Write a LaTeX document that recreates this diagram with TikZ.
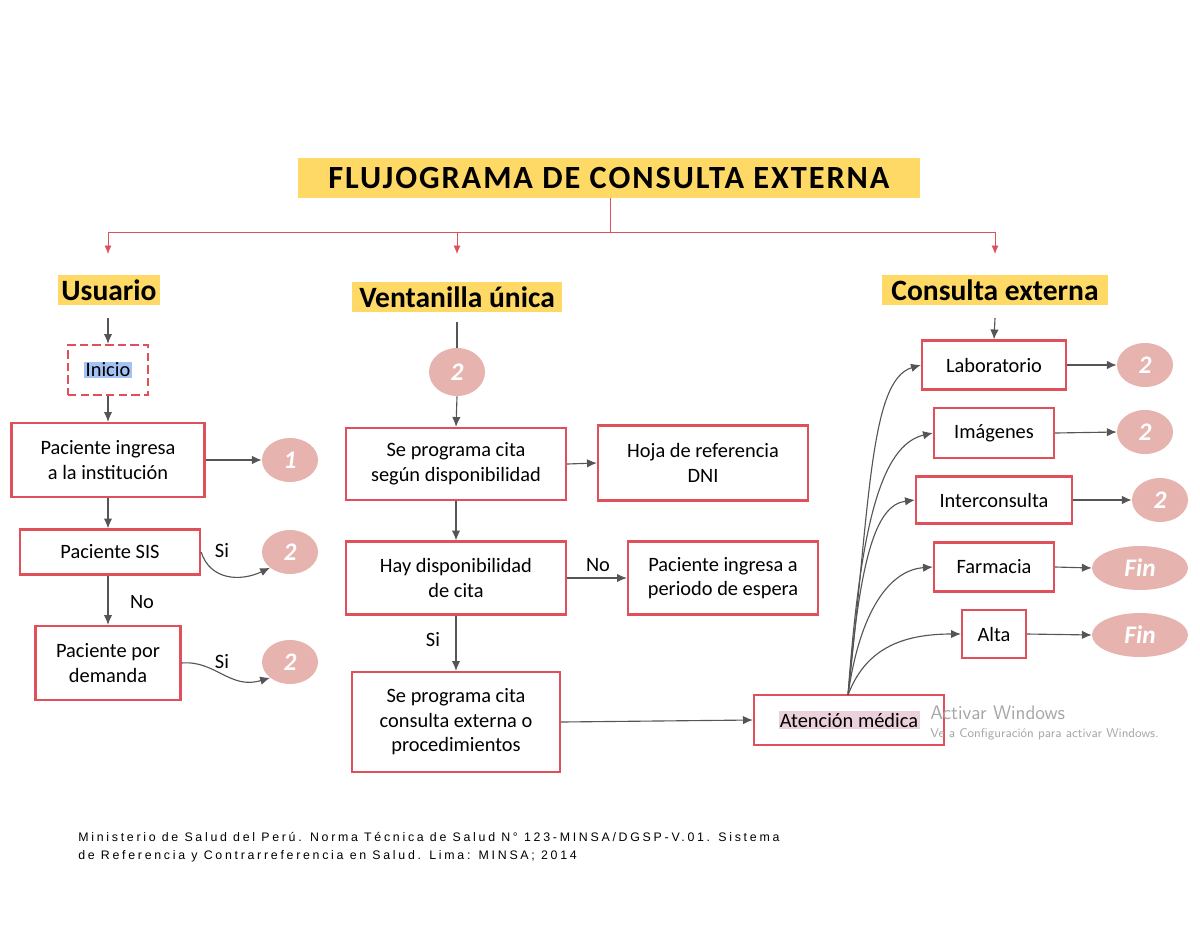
\documentclass[tikz,border=0pt]{standalone}
\usepackage{fontspec}
\setmainfont{Carlito}
\newfontfamily\foot[LetterSpace=22]{Liberation Sans}
\newfontfamily\ttl[LetterSpace=6]{Carlito}
\usetikzlibrary{arrows.meta,shapes.geometric}
\definecolor{bred}{HTML}{E0505A}
\definecolor{ylw}{HTML}{FFD966}
\definecolor{pk}{HTML}{E6B3AE}
\definecolor{ar}{HTML}{555555}
\definecolor{hb}{HTML}{A4C2F4}
\definecolor{hp}{HTML}{EAD1DC}
\newdimen\pxu \pxu=0.7113pt
\begin{document}
\begin{tikzpicture}[x=0.025cm,y=-0.025cm,
 sz/.style 2 args={minimum width={#1*\pxu},minimum height={#2*\pxu}},
 box/.style={draw=bred,line width=1.6pt,align=center,font=\fontsize{14.5}{17.5}\selectfont,inner sep=0pt},
 hd/.style={fill=ylw,font=\fontsize{21}{24}\selectfont\bfseries,inner sep=0pt},
 cr/.style={ellipse,fill=pk,text=white,font=\fontsize{18}{20}\selectfont\bfseries\itshape,inner sep=0pt},
 a/.style={-{Latex[length=7pt,width=6pt]},ar,line width=0.8pt},
 ra/.style={-{Latex[length=6pt,width=5pt]},bred,line width=0.6pt},
 lb/.style={font=\fontsize{14.5}{17}\selectfont}]
\useasboundingbox (0,0) rectangle (1200,927);
% title
\node[fill=ylw,font=\fontsize{23}{26}\ttl\bfseries,sz={622}{40},inner sep=0pt] (t) at (609,178) {FLUJOGRAMA DE CONSULTA EXTERNA};
\node[hd,sz={102}{30}] (u) at (109,290) {Usuario};
\node[hd,sz={210}{30}] (v) at (457,297) {Ventanilla única};
\node[hd,sz={226}{30}] (c) at (995,290) {Consulta externa};
\coordinate (j) at (610,232);
\draw[bred,line width=0.6pt] (t.south-|j) -- (j);
\draw[bred,line width=0.6pt] (108,232) -- (995,232);
\draw[ra] (108,232) -- (108,254);
\draw[ra] (457,232) -- (457,254);
\draw[ra] (995,232) -- (995,254);
% Usuario column
\node[draw=bred,dash pattern=on 6pt off 3pt,line width=1.6pt,sz={80}{50},inner sep=0pt] (ini) at (108,370) {};
\node[fill=hb,font=\fontsize{14.5}{17}\selectfont,inner sep=1pt] at (ini) {Inicio};
\draw[a] (108,318) -- (ini.north);
\node[box,sz={193}{74}] (p1) at (108,460) {Paciente ingresa\\a la institución};
\draw[a] (ini.south) -- (p1.north);
\node[cr,sz={56}{44}] (c1) at (290,460) {1};
\draw[a] (p1.east) -- (c1.west);
\node[box,sz={180}{45}] (sis) at (110,552) {Paciente SIS};
\draw[a] (p1.south) -- (sis.north-|p1.south);
\node[cr,sz={56}{44}] (c2) at (290,552) {2};
\node[lb] at (222,551) {Si};
\draw[a] (sis.east) .. controls (210,580) and (240,582) .. (c2.south west);
\node[box,sz={145}{74}] (dem) at (108,663) {Paciente por\\demanda};
\draw[a] (sis.south-|dem.north) -- (dem.north);
\node[lb] at (142,602) {No};
\node[cr,sz={56}{44}] (c3) at (290,662) {2};
\node[lb] at (222,662) {Si};
\draw[a] (dem.east) .. controls (215,660) and (230,690) .. (c3.south west);
% Ventanilla column
\node[cr,sz={56}{48}] (c4) at (457,372) {2};
\draw[ar,line width=0.8pt] (457,322) -- (c4.north);
\node[box,sz={220}{72}] (sp) at (456,464) {Se programa cita\\según disponibilidad};
\draw[a] (c4.south) -- (sp.north);
\node[box,sz={210}{75}] (hoja) at (703,463) {Hoja de referencia\\DNI};
\draw[a] (sp.east) -- (hoja.west);
\node[box,sz={220}{73}] (hay) at (456,578) {Hay disponibilidad\\de cita};
\draw[a] (sp.south) -- (hay.north);
\node[box,sz={190}{73}] (esp) at (723,578) {Paciente ingresa a\\periodo de espera};
\draw[a] (hay.east) -- (esp.west);
\node[lb] at (598,565) {No};
\node[box,sz={208}{100}] (spc) at (456,722) {Se programa cita\\consulta externa o\\procedimientos};
\draw[a] (hay.south) -- (spc.north);
\node[lb] at (433,640) {Si};
\node[box,sz={190}{50}] (at) at (849,720) {};
\node[fill=hp,font=\fontsize{14.5}{17}\selectfont,inner sep=1pt] at (at) {Atención médica};
\draw[a] (spc.east) -- (at.west);
% Consulta externa column
\node[box,sz={144}{49}] (lab) at (994,365) {Laboratorio};
\draw[a] (995,318) -- (lab.north);
\node[box,sz={120}{50}] (img) at (994,433) {Imágenes};
\node[box,sz={156}{47}] (int) at (994,500) {Interconsulta};
\node[box,sz={120}{49}] (far) at (994,567) {Farmacia};
\node[box,sz={64}{48}] (alt) at (994,634) {Alta};
\node[cr,sz={56}{44}] (d1) at (1145,365) {2};
\node[cr,sz={56}{44}] (d2) at (1145,432) {2};
\node[cr,sz={56}{44}] (d3) at (1160,500) {2};
\node[cr,sz={96}{44}] (f1) at (1140,568) {Fin};
\node[cr,sz={96}{44}] (f2) at (1140,635) {Fin};
\draw[a] (lab.east) -- (d1.west);
\draw[a] (img.east) -- (d2.west);
\draw[a] (int.east) -- (d3.west);
\draw[a] (far.east) -- (f1.west);
\draw[a] (alt.east) -- (f2.west);
\coordinate (o) at (848,695);
\draw[a] (o) .. controls (870,500) and (870,380) .. (lab.west);
\draw[a] (o) .. controls (860,530) and (880,445) .. (img.west);
\draw[a] (o) .. controls (860,560) and (875,505) .. (int.west);
\draw[a] (o) .. controls (860,610) and (890,570) .. (far.west);
\draw[a] (o) .. controls (865,650) and (900,634) .. (alt.west);
% watermark
\node[anchor=west,text=black!35,font=\fontsize{14}{16}\selectfont\sffamily,inner sep=0pt] at (930,713) {Activar Windows};
\node[anchor=west,text=black!35,font=\fontsize{9}{10}\selectfont\sffamily,inner sep=0pt] at (930,734) {Ve a Configuración para activar Windows.};
% footer
\node[anchor=north west,align=left,font=\fontsize{8.8}{13}\foot,inner sep=0pt] (ft) at (78,832) {Ministerio de Salud del Perú. Norma Técnica de Salud N° 123-MINSA/DGSP-V.01. Sistema\\de Referencia y Contrarreferencia en Salud. Lima: MINSA; 2014};
\end{tikzpicture}
\end{document}
